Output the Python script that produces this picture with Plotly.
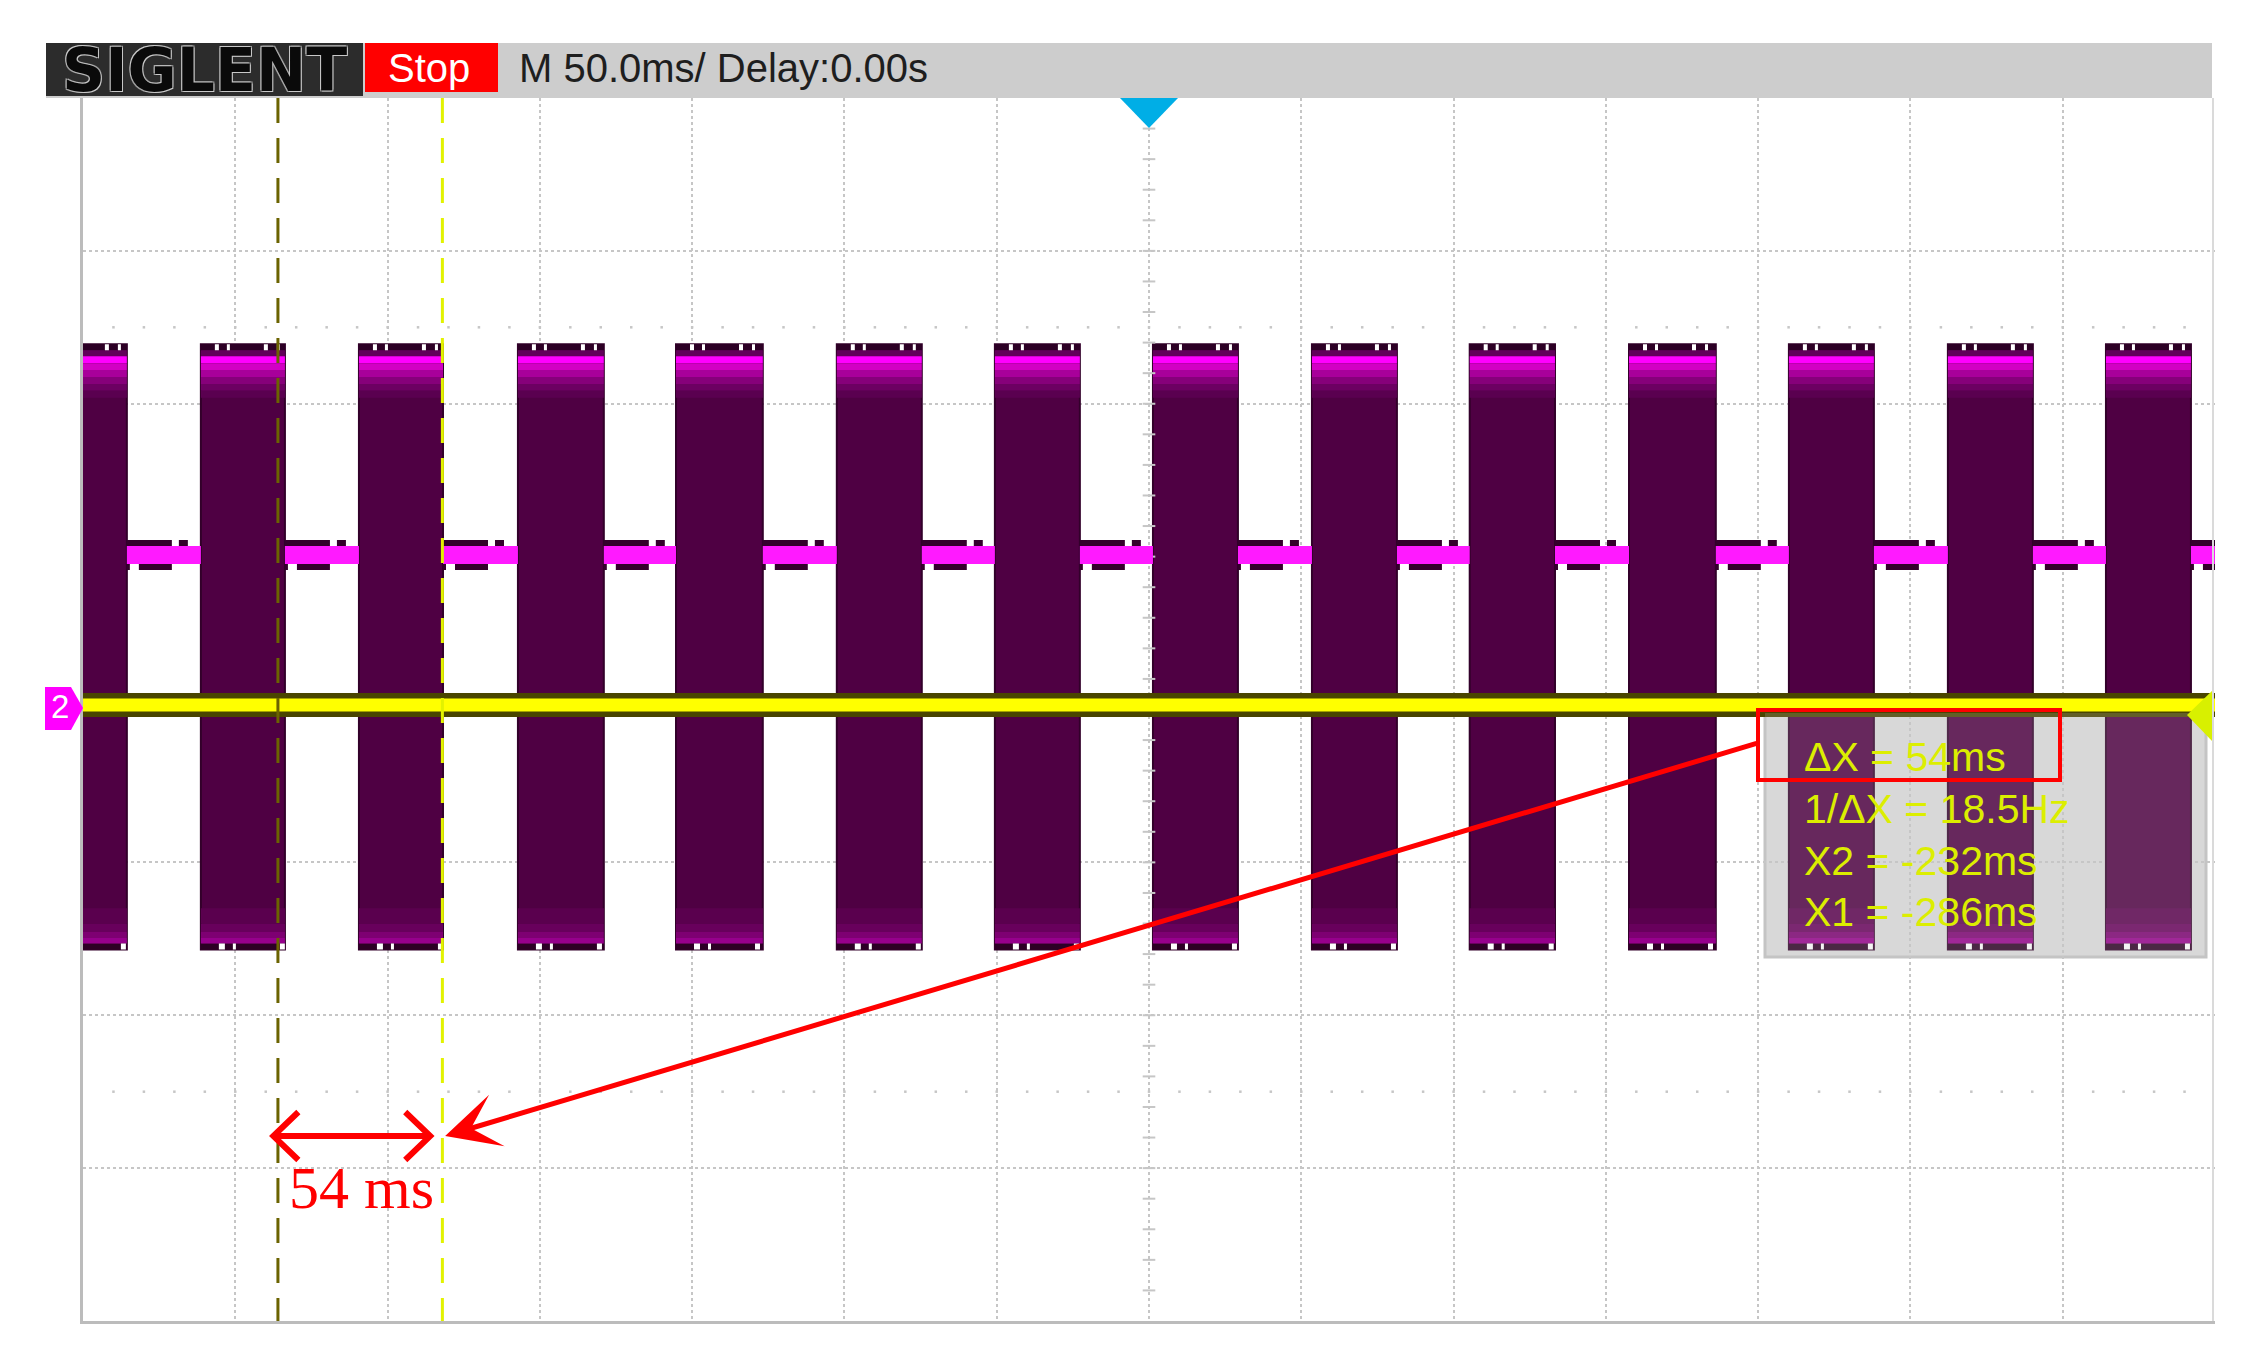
import plotly.graph_objects as go

x_range_ms = [-350, 350]          # 14 div x 50 ms/div, delay 0
y_range_div = [-4, 4]             # 8 vertical divisions
time_per_div = 50.0

# channel 2 (magenta) burst edges, ms
rise_ms = [-363.5, -311.3, -259.4, -207.2, -155.3, -102.5, -50.6, 1.3,
           53.5, 105.3, 157.6, 210.1, 262.3, 314.2, 366.0]
fall_ms = [-335.6, -283.7, -231.8, -179.0, -126.8, -74.6, -22.7, 29.2,
           81.4, 133.3, 186.1, 238.0, 290.2, 342.1]
ch2_high = 2.39     # div
ch2_low = -1.57     # div
ch2_idle = 1.01     # div
ch1_level = 0.03    # div (yellow trace)

cursor_x1 = -286    # ms
cursor_x2 = -232    # ms
delta_ms = cursor_x2 - cursor_x1

header_labels = ["SIGLENT", "Stop", "M 50.0ms/ Delay:0.00s"]
readout_lines = [f"\u0394X = {delta_ms}ms",
                 f"1/\u0394X = {1000.0 / delta_ms:.1f}Hz",
                 f"X2 = {cursor_x2}ms",
                 f"X1 = {cursor_x1}ms"]
annot_text = f"{delta_ms} ms"

# ---------------- geometry (window pixels) ----------------
W, H = 2259, 1359
OFF = 8                       # default body margin of the html page
ML, MT = 83, 98               # plot area left / top in window pixels
PR, PB = 2215, 1321           # plot area right / bottom in window pixels
PW, PH = PR - ML, PB - MT
px_per_ms = PW / (x_range_ms[1] - x_range_ms[0])
px_per_div = PH / (y_range_div[1] - y_range_div[0])


def px2ms(px):
    return (px - ML) / px_per_ms + x_range_ms[0]


def py2div(py):
    return y_range_div[1] - (py - MT) / px_per_div


def pxp(px):   # window pixel -> paper x
    return (px - ML) / PW


def pyp(py):   # window pixel -> paper y
    return (PB - py) / PH


fig = go.Figure()

GRID = "#c6c6c6"

# dotted minor rows at +-2.5 div and centre-axis ticks
minor_x = [x_range_ms[0] + i * time_per_div / 5 for i in range(1, 70)]
for row in (2.5, -2.5):
    fig.add_trace(go.Scatter(x=minor_x, y=[row] * len(minor_x), mode="markers",
                             marker=dict(symbol="square", size=2.5, color=GRID),
                             hoverinfo="skip"))
minor_y = [y_range_div[0] + i * 0.2 for i in range(1, 40)]
fig.add_trace(go.Scatter(x=[0] * len(minor_y), y=minor_y, mode="markers",
                         marker=dict(symbol="line-ew", size=9,
                                     line=dict(width=2, color=GRID)),
                         hoverinfo="skip"))
fig.add_trace(go.Scatter(x=minor_x, y=[0] * len(minor_x), mode="markers",
                         marker=dict(symbol="line-ns", size=9,
                                     line=dict(width=2, color=GRID)),
                         hoverinfo="skip"))

# channel 1 (yellow) flat trace
fig.add_trace(go.Scatter(x=x_range_ms, y=[ch1_level] * 2, mode="lines",
                         line=dict(color="#4a4500", width=24), hoverinfo="skip"))
fig.add_trace(go.Scatter(x=x_range_ms, y=[ch1_level] * 2, mode="lines",
                         line=dict(color="#ffff00", width=13), hoverinfo="skip"))

# channel 2 bursts (dense envelope drawn as bars in time)
n = len(fall_ms)
centers = [(rise_ms[i] + fall_ms[i]) / 2 for i in range(n)]
widths = [fall_ms[i] - rise_ms[i] for i in range(n)]

fig.add_trace(go.Bar(x=centers, width=widths, base=[ch2_low] * n,
                     y=[ch2_high - ch2_low] * n,
                     marker=dict(color="#4f0043", line=dict(width=2, color="#32002a")),
                     hoverinfo="skip"))
# intensity bands at top and bottom of the envelope (offsets in div from the edges)
top_bands = [(0.00, 0.04, "#2c0025"), (0.04, 0.08, "#62005a"),
             (0.08, 0.125, "#ff00ff"), (0.125, 0.17, "#d200c4"),
             (0.17, 0.215, "#a8009a"), (0.215, 0.26, "#86007a"),
             (0.26, 0.305, "#6c0062"), (0.305, 0.35, "#5a0050")]
bot_bands = [(0.00, 0.04, "#2c0025"), (0.04, 0.075, "#96008c"),
             (0.075, 0.115, "#7e0072"), (0.115, 0.17, "#68005c"),
             (0.17, 0.27, "#5a004e")]
for a, b, c in top_bands:
    fig.add_trace(go.Bar(x=centers, width=widths, base=[ch2_high - b] * n,
                         y=[b - a] * n, marker=dict(color=c, line=dict(width=0)),
                         hoverinfo="skip"))
for a, b, c in bot_bands:
    fig.add_trace(go.Bar(x=centers, width=widths, base=[ch2_low + a] * n,
                         y=[b - a] * n, marker=dict(color=c, line=dict(width=0)),
                         hoverinfo="skip"))

# small notches in the dark top / bottom fringes of each burst
nx, ny_top, ny_bot = [], [], []
for i in range(n):
    nx += [rise_ms[i], fall_ms[i], None]
    ny_top += [ch2_high - 0.02, ch2_high - 0.02, None]
    ny_bot += [ch2_low + 0.02, ch2_low + 0.02, None]
fig.add_trace(go.Scatter(x=nx, y=ny_top, mode="lines",
                         line=dict(color="#ffffff", width=6,
                                   dash="0px,14px,4px,8px,3px,34px,4px,9px,3px,200px"),
                         hoverinfo="skip"))
fig.add_trace(go.Scatter(x=nx, y=ny_bot, mode="lines",
                         line=dict(color="#ffffff", width=6,
                                   dash="0px,18px,6px,8px,3px,44px,5px,200px"),
                         hoverinfo="skip"))

# idle level between bursts
seg_x, seg_y = [], []
for i in range(n):
    seg_x += [fall_ms[i], rise_ms[i + 1], None]
    seg_y += [ch2_idle, ch2_idle, None]
fringe = 12 / px_per_div
fig.add_trace(go.Scatter(x=seg_x, y=[v + fringe if v is not None else None for v in seg_y],
                         mode="lines", line=dict(color="#34002c", width=6,
                                                 dash="45px,7px,9px,200px"),
                         hoverinfo="skip"))
fig.add_trace(go.Scatter(x=seg_x, y=[v - fringe if v is not None else None for v in seg_y],
                         mode="lines", line=dict(color="#34002c", width=6,
                                                 dash="3px,9px,33px,200px"),
                         hoverinfo="skip"))
fig.add_trace(go.Scatter(x=seg_x, y=seg_y, mode="lines",
                         line=dict(color="#ff1aff", width=18), hoverinfo="skip"))

# cursors
fig.add_trace(go.Scatter(x=[cursor_x1, cursor_x1], y=[y_range_div[1], y_range_div[0]],
                         mode="lines", line=dict(color="#6b6300", width=3, dash="25px,15px"),
                         hoverinfo="skip"))
fig.add_trace(go.Scatter(x=[cursor_x2, cursor_x2], y=[y_range_div[1], y_range_div[0]],
                         mode="lines", line=dict(color="#e2f200", width=3, dash="25px,15px"),
                         hoverinfo="skip"))

# double arrow between the cursors
ya = py2div(1136)
lx, rx = cursor_x1 - 1.5, cursor_x2 - 4.0
adx, ady = 25 / px_per_ms, 24 / px_per_div
fig.add_trace(go.Scatter(
    x=[lx + adx, lx, lx + adx, None, lx, rx, None, rx - adx, rx, rx - adx],
    y=[ya + ady, ya, ya - ady, None, ya, ya, None, ya + ady, ya, ya - ady],
    mode="lines", line=dict(color="#ff0000", width=6), hoverinfo="skip"))

shapes = []
# measurement box (below grid), with translucent overlay above traces
bx0, bx1, by0, by1 = px2ms(1765), px2ms(2206), py2div(713), py2div(957)
shapes.append(dict(type="rect", xref="x", yref="y", x0=bx0, x1=bx1, y0=by0, y1=by1,
                   layer="below", fillcolor="#dcdcdc", line=dict(color="#c4c4c4", width=3)))
shapes.append(dict(type="rect", xref="x", yref="y", x0=bx0, x1=bx1, y0=by0, y1=by1,
                   layer="above", fillcolor="rgba(200,200,200,0.2)", line=dict(width=0)))
# red rectangle around ΔX
shapes.append(dict(type="rect", xref="x", yref="y", x0=px2ms(1758), x1=px2ms(2060),
                   y0=py2div(710), y1=py2div(780), layer="above",
                   line=dict(color="#ff0000", width=4), fillcolor="rgba(0,0,0,0)"))
# header bar
shapes.append(dict(type="rect", xref="paper", yref="paper", x0=pxp(46), x1=pxp(2212),
                   y0=pyp(98), y1=pyp(43), fillcolor="#cdcdcd", line=dict(width=0), layer="above"))
shapes.append(dict(type="rect", xref="paper", yref="paper", x0=pxp(46), x1=pxp(363),
                   y0=pyp(96), y1=pyp(43), fillcolor="#2c2c2c", line=dict(width=0), layer="above"))
shapes.append(dict(type="rect", xref="paper", yref="paper", x0=pxp(365), x1=pxp(498),
                   y0=pyp(92), y1=pyp(43), fillcolor="#ff0000", line=dict(width=0), layer="above"))
# trigger position marker (cyan)
tw = 29 / px_per_ms
shapes.append(dict(type="path", xref="x", yref="paper",
                   path=f"M {-tw},1 L {tw},1 L 0,{pyp(128)} Z",
                   fillcolor="#00aee6", line=dict(width=0), layer="above"))
# trigger level marker (right, yellow)
shapes.append(dict(type="path", xref="paper", yref="paper",
                   path=f"M {pxp(2213)},{pyp(690)} L {pxp(2187)},{pyp(715)} L {pxp(2213)},{pyp(742)} Z",
                   fillcolor="#d8f000", line=dict(width=0), layer="above"))
# channel 2 reference marker (left, magenta)
shapes.append(dict(type="path", xref="paper", yref="paper",
                   path=(f"M {pxp(45)},{pyp(687)} L {pxp(71)},{pyp(687)} L {pxp(83)},{pyp(708)} "
                         f"L {pxp(71)},{pyp(730)} L {pxp(45)},{pyp(730)} Z"),
                   fillcolor="#ff00ff", line=dict(width=0), layer="above"))
# faint right border
shapes.append(dict(type="line", xref="paper", yref="paper", x0=pxp(2213), x1=pxp(2213),
                   y0=0, y1=1, line=dict(color="#dadada", width=2), layer="above"))

annotations = []
annotations.append(dict(xref="paper", yref="paper", x=pxp(204), y=pyp(70),
                        xanchor="center", yanchor="middle",
                        text=header_labels[0], showarrow=False,
                        font=dict(family="DejaVu Sans", size=60, color="#0a0a0a",
                                  weight="bold",
                                  shadow="1px 1px 0px #c8c8c8, -1px -1px 0px #c8c8c8, 1px -1px 0px #9a9a9a, -1px 1px 0px #9a9a9a")))
annotations.append(dict(xref="paper", yref="paper", x=pxp(429), y=pyp(68),
                        xanchor="center", yanchor="middle",
                        text=header_labels[1], showarrow=False,
                        font=dict(family="Liberation Sans", size=40, color="#ffffff")))
annotations.append(dict(xref="paper", yref="paper", x=pxp(517), y=pyp(68),
                        xanchor="left", yanchor="middle",
                        text=header_labels[2], showarrow=False,
                        font=dict(family="Liberation Sans", size=40, color="#1e1e1e")))
annotations.append(dict(xref="paper", yref="paper", x=pxp(60), y=pyp(707),
                        xanchor="center", yanchor="middle",
                        text="2", showarrow=False,
                        font=dict(family="Liberation Sans", size=33, color="#ffffff")))
for txt, py in zip(readout_lines, [757, 809, 861, 912]):
    annotations.append(dict(xref="x", yref="y", x=px2ms(1802), y=py2div(py),
                            xanchor="left", yanchor="middle", text=txt, showarrow=False,
                            font=dict(family="Liberation Sans", size=41, color="#dcee00")))
# red arrow from the readout to cursor X2
annotations.append(dict(xref="x", yref="y", x=cursor_x2 + 0.9, y=py2div(1136),
                        axref="x", ayref="y", ax=px2ms(1758), ay=py2div(743),
                        text="", showarrow=True, arrowhead=3, arrowwidth=5,
                        arrowsize=1.8, arrowcolor="#ff0000", standoff=0))
annotations.append(dict(xref="x", yref="y", x=px2ms(287), y=py2div(1188),
                        xanchor="left", yanchor="middle", text=annot_text, showarrow=False,
                        font=dict(family="Liberation Serif", size=60, color="#ff0000")))

fig.update_layout(
    width=W - 2 * OFF, height=H - 2 * OFF,
    margin=dict(l=ML - OFF, r=W - OFF - PR, t=MT - OFF, b=H - OFF - PB, pad=0),
    paper_bgcolor="#ffffff", plot_bgcolor="#ffffff",
    showlegend=False, barmode="overlay",
    shapes=shapes, annotations=annotations,
    xaxis=dict(range=x_range_ms, dtick=time_per_div, tick0=0, showticklabels=False,
               ticks="", showgrid=True, gridcolor=GRID, gridwidth=2, griddash="dot",
               zeroline=False, showline=True, linecolor="#bcbcbc", linewidth=3,
               fixedrange=True),
    yaxis=dict(range=y_range_div, dtick=1, tick0=0, showticklabels=False,
               ticks="", showgrid=True, gridcolor=GRID, gridwidth=2, griddash="dot",
               zeroline=False, showline=True, linecolor="#bcbcbc", linewidth=3,
               fixedrange=True),
)

fig.write_html("out.html")
